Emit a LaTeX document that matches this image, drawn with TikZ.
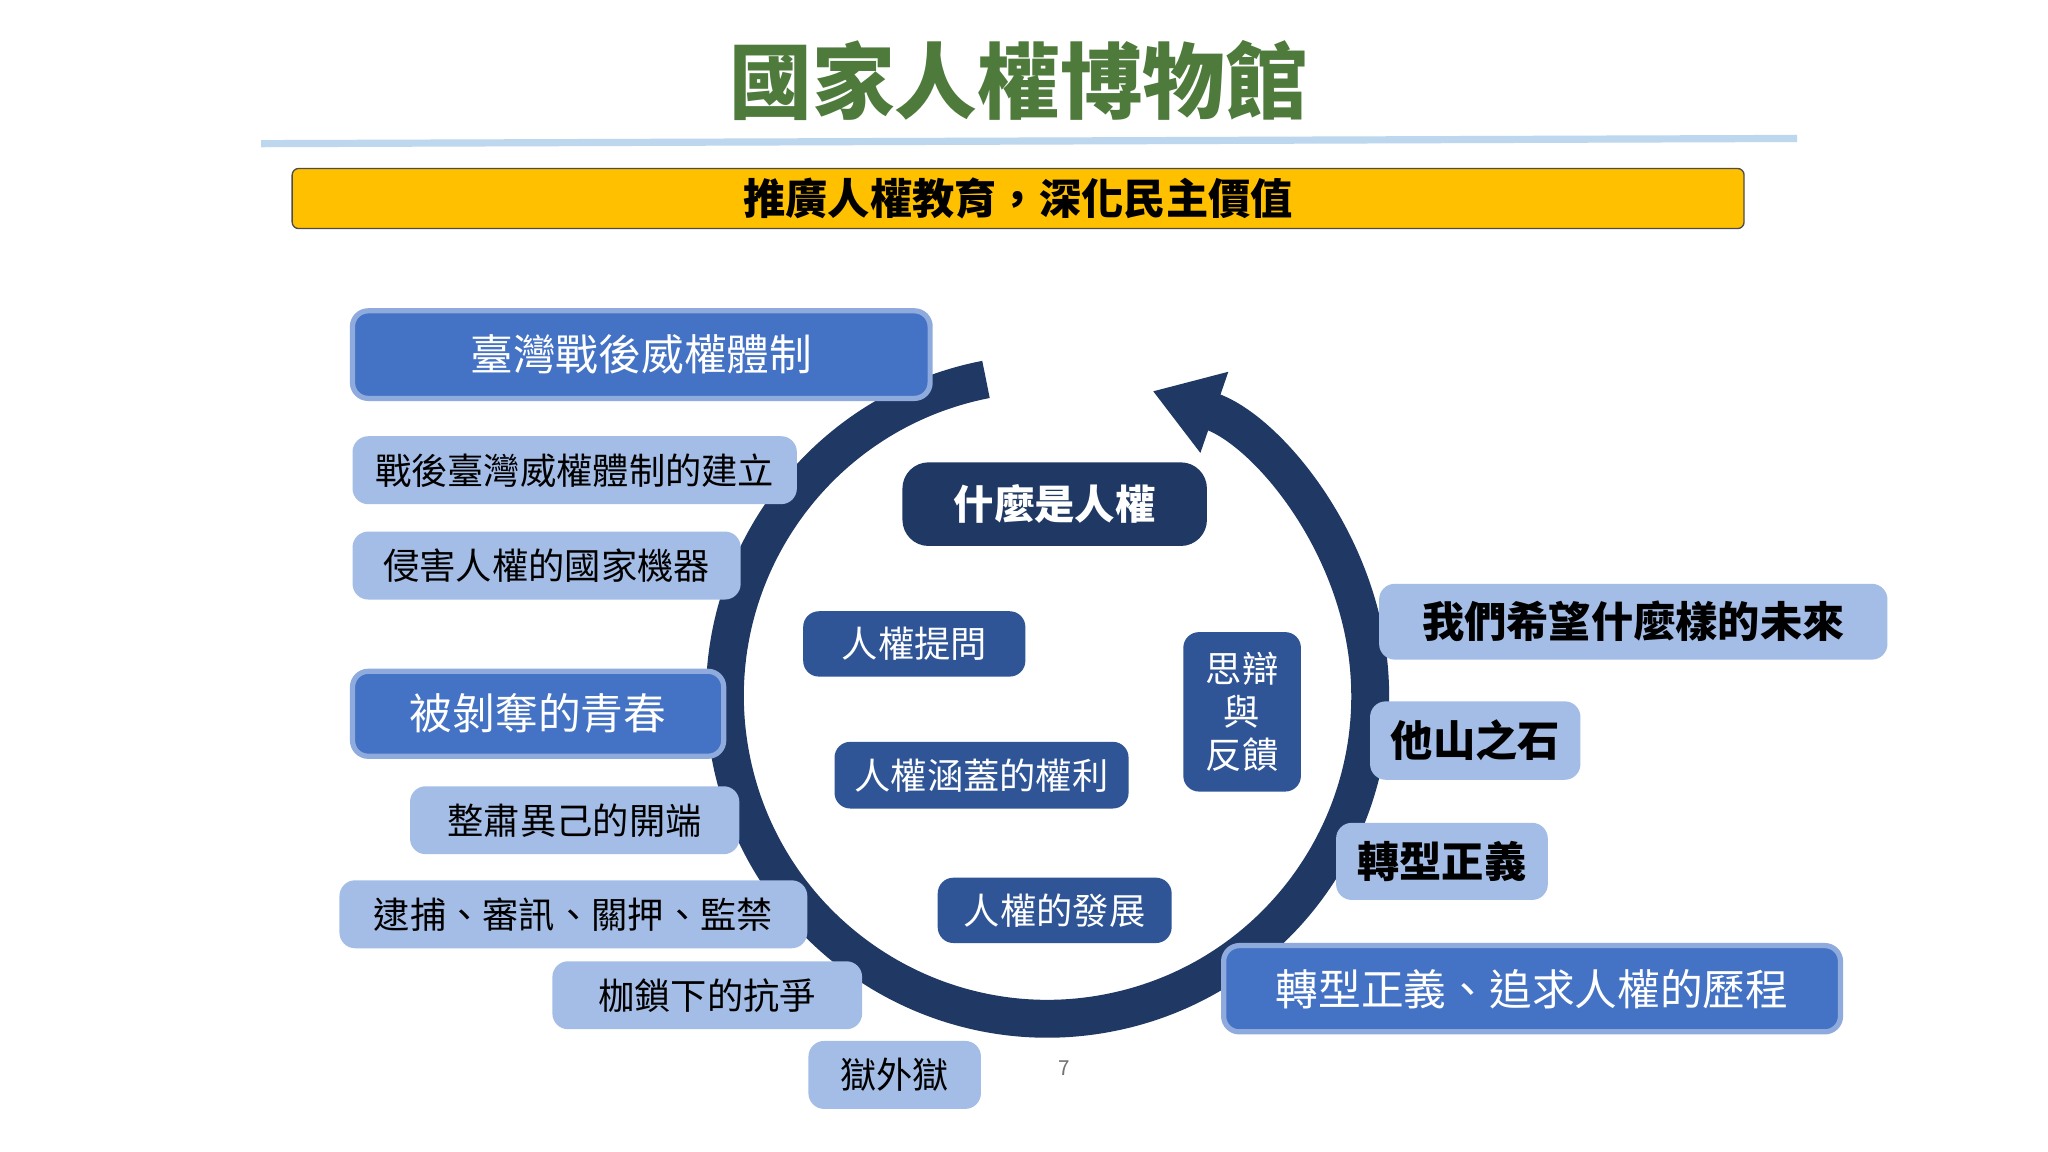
\documentclass[tikz,border=0pt]{standalone}
\usepackage{fontspec}
\setmainfont{Noto Sans CJK TC}
\usetikzlibrary{arrows.meta}
\definecolor{navy}{HTML}{1F3864}
\definecolor{midb}{HTML}{2F5597}
\definecolor{darkbox}{HTML}{4472C4}
\definecolor{darkedge}{HTML}{8FAADC}
\definecolor{lightbox}{HTML}{A4BDE6}
\definecolor{ttl}{HTML}{4E7A3C}
\definecolor{rule}{HTML}{BDD7EE}
\definecolor{banner}{HTML}{FFC000}
\tikzset{
 base/.style={rounded corners=0.12cm, inner sep=0pt, align=center},
 darkb/.style={base, fill=darkbox, draw=darkedge, line width=0.04cm, text=white, font=\fontsize{9.3}{11}\selectfont},
 lightb/.style={base, fill=lightbox, text=black, font=\fontsize{7.9}{9}\selectfont},
 rightb/.style={base, fill=lightbox, text=black, font=\fontsize{9.2}{11}\selectfont\bfseries},
 centb/.style={base, fill=midb, text=white, font=\fontsize{7.9}{9}\selectfont},
}
\begin{document}
\begin{tikzpicture}[x=0.01cm,y=-0.01cm]
\useasboundingbox (0,0) rectangle (1568,882);
\fill[white] (0,0) rectangle (1568,882);
\node[text=ttl, font=\fontsize{18}{20}\selectfont\bfseries] (title) at (780,62) {國家人權博物館};
\draw[rule, line width=0.055cm] (200,110) -- (1376,106);
\node[base, fill=banner, draw=black!70, line width=0.01cm, minimum width=11.11cm, minimum height=0.46cm, font=\fontsize{9.2}{11}\selectfont\bfseries, rounded corners=0.05cm] (ban) at (779.5,152) {推廣人權教育，深化民主價值};
% circle arrow
\draw[navy, line width=0.29cm, -{Triangle[length=0.5cm, width=0.62cm]}] (754.9,290.5) arc[start angle=-101, end angle=-431, radius=247];
% left
\node[darkb, minimum width=4.42cm, minimum height=0.67cm] (a) at (491,271.5) {臺灣戰後威權體制};
\node[lightb, minimum width=3.40cm, minimum height=0.52cm] (b) at (440,360) {戰後臺灣威權體制的建立};
\node[lightb, minimum width=2.97cm, minimum height=0.52cm] (c) at (418.5,433) {侵害人權的國家機器};
\node[darkb, minimum width=2.84cm, minimum height=0.65cm] (d) at (412,546.5) {被剝奪的青春};
\node[lightb, minimum width=2.52cm, minimum height=0.52cm] (e) at (440,628) {整肅異己的開端};
\node[lightb, minimum width=3.58cm, minimum height=0.52cm] (f) at (439,700) {逮捕、審訊、關押、監禁};
\node[lightb, minimum width=2.37cm, minimum height=0.52cm] (g) at (541.5,762) {枷鎖下的抗爭};
\node[lightb, minimum width=1.32cm, minimum height=0.52cm] (h) at (685,823) {獄外獄};
% right
\node[rightb, minimum width=3.89cm, minimum height=0.58cm] (r1) at (1250.5,476) {我們希望什麼樣的未來};
\node[rightb, minimum width=1.61cm, minimum height=0.60cm] (r2) at (1129.5,567) {他山之石};
\node[rightb, minimum width=1.62cm, minimum height=0.59cm] (r3) at (1104,659.5) {轉型正義};
\node[darkb, minimum width=4.72cm, minimum height=0.66cm] (r4) at (1173,757) {轉型正義、追求人權的歷程};
% center
\node[base, fill=navy, text=white, font=\fontsize{8.8}{11}\selectfont\bfseries, minimum width=2.33cm, minimum height=0.64cm, rounded corners=0.2cm] (c1) at (807.5,386) {什麼是人權};
\node[centb, minimum width=1.70cm, minimum height=0.50cm] (c2) at (700,493) {人權提問};
\node[centb, minimum width=2.25cm, minimum height=0.51cm] (c3) at (751.5,593.5) {人權涵蓋的權利};
\node[centb, minimum width=1.79cm, minimum height=0.50cm] (c4) at (807.5,697) {人權的發展};
\node[centb, minimum width=0.90cm, minimum height=1.22cm, font=\fontsize{7.9}{9.4}\selectfont] (c5) at (951,545) {思辯\\與\\反饋};
\node[text=black!55, font=\fontsize{4.5}{5}\selectfont] (pg) at (815,818) {7};
\end{tikzpicture}
\end{document}
